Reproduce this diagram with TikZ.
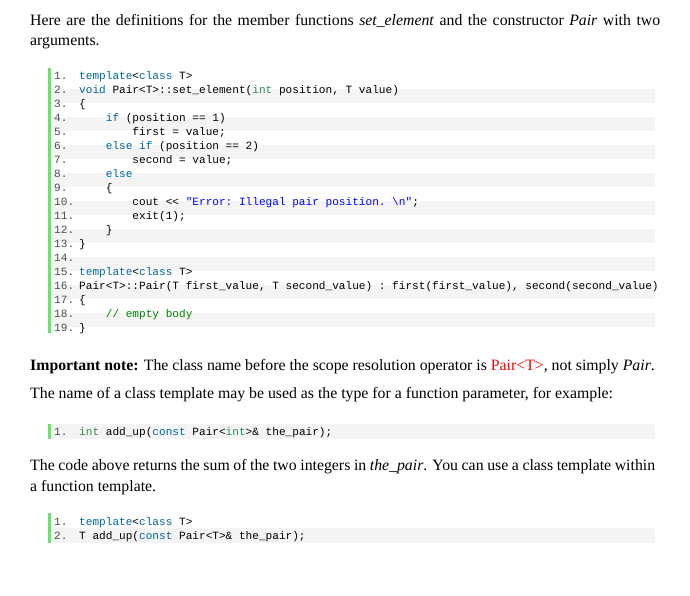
\documentclass[tikz,border=0pt]{standalone}
\usepackage{fontspec}
\setmainfont{Liberation Serif}
\setmonofont{Liberation Mono}
\begin{document}
\begin{tikzpicture}[x=1pt,y=-1pt,
  txt/.style={anchor=base west,inner sep=0,font=\fontsize{15.8}{18}\selectfont},
  cl/.style={anchor=base west,inner sep=0,font=\ttfamily\fontsize{11.1}{12}\selectfont},
  ln/.style={cl,text=black!70}]
\definecolor{kw}{HTML}{006699}
\definecolor{ty}{HTML}{2E8B57}
\definecolor{st}{HTML}{0000FF}
\definecolor{cm}{HTML}{008200}
\definecolor{bar}{HTML}{6CE26C}
\definecolor{rowbg}{HTML}{F4F4F4}
\newcommand\ind[1]{\hspace*{#1\fontcharwd\font`x}}
\useasboundingbox (0,0) rectangle (690,595);
\fill[white] (0,0) rectangle (690,595);
\node[txt] (p1) at (30,25) {\hbox to 630pt{Here are the definitions for the member functions \textit{set\_element} and the constructor \textit{Pair} with two}};
\node[txt] (p2) at (30,45) {arguments.};
% code block 1
\foreach \i in {2,4,...,18} {\fill[rowbg] (51,{61+14*\i}) rectangle (655,{75+14*\i});}
\fill[bar] (48,68) rectangle (51,333);
\foreach \i in {1,...,19} {\node[ln] at (54,{65+14*\i}) {\i.};}
\node[cl] (c1) at (79,79) {\textcolor{kw}{template}<\textcolor{kw}{class} T>};
\node[cl] (c2) at (79,93) {\textcolor{kw}{void} Pair<T>::set\_element(\textcolor{ty}{int} position, T value)};
\node[cl] (c3) at (79,107) {\{};
\node[cl] (c4) at (79,121) {\ind{4}\textcolor{kw}{if} (position == 1)};
\node[cl] (c5) at (79,135) {\ind{8}first = value;};
\node[cl] (c6) at (79,149) {\ind{4}\textcolor{kw}{else} \textcolor{kw}{if} (position == 2)};
\node[cl] (c7) at (79,163) {\ind{8}second = value;};
\node[cl] (c8) at (79,177) {\ind{4}\textcolor{kw}{else}};
\node[cl] (c9) at (79,191) {\ind{4}\{};
\node[cl] (c10) at (79,205) {\ind{8}cout << \textcolor{st}{"Error: Illegal pair position. \textbackslash n"};};
\node[cl] (c11) at (79,219) {\ind{8}exit(1);};
\node[cl] (c12) at (79,233) {\ind{4}\}};
\node[cl] (c13) at (79,247) {\}};
\node[cl] (c15) at (79,275) {\textcolor{kw}{template}<\textcolor{kw}{class} T>};
\node[cl] (c16) at (79,289) {Pair<T>::Pair(T first\_value, T second\_value) : first(first\_value), second(second\_value)};
\node[cl] (c17) at (79,303) {\{};
\node[cl] (c18) at (79,317) {\ind{4}\textcolor{cm}{// empty body}};
\node[cl] (c19) at (79,331) {\}};
% note
\node[txt] (n1) at (30,370) {\textbf{Important note:} The class name before the scope resolution operator is \textcolor{red}{Pair<T>}, not simply \textit{Pair}.};
\node[txt] (n2) at (30,398) {The name of a class template may be used as the type for a function parameter, for example:};
\fill[rowbg] (51,424) rectangle (655,439);
\fill[bar] (48,424) rectangle (51,439);
\node[ln] (l1) at (54,435) {1.};
\node[cl] (d1) at (79,435) {\textcolor{ty}{int} add\_up(\textcolor{kw}{const} Pair<\textcolor{ty}{int}>\& the\_pair);};
\node[txt] (q1) at (30,470) {\hbox to 625pt{The code above returns the sum of the two integers in \textit{the\_pair}. You can use a class template within}};
\node[txt] (q2) at (30,491) {a function template.};
\fill[rowbg] (51,528) rectangle (655,543);
\fill[bar] (48,513) rectangle (51,543);
\node[ln] at (54,525) {1.};
\node[ln] at (54,539) {2.};
\node[cl] (e1) at (79,525) {\textcolor{kw}{template}<\textcolor{kw}{class} T>};
\node[cl] (e2) at (79,539) {T add\_up(\textcolor{kw}{const} Pair<T>\& the\_pair);};
\end{tikzpicture}
\end{document}
